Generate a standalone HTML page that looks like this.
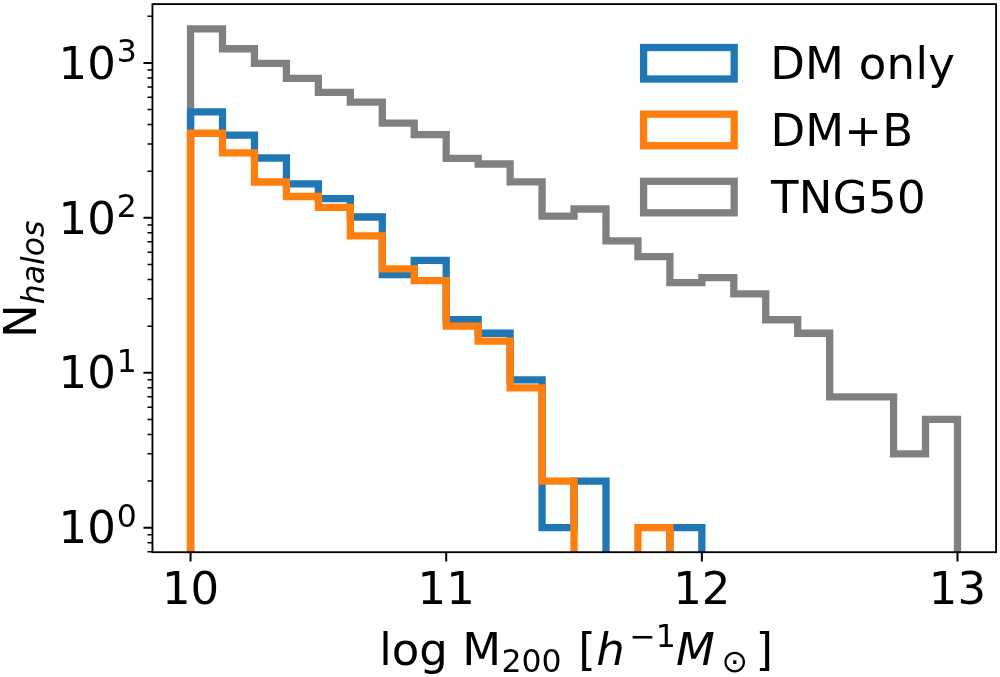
<!DOCTYPE html>
<html lang="en"><head><meta charset="utf-8"><title>Halo mass function</title>
<style>html,body{margin:0;padding:0;background:#fff}body{width:1000px;height:677px;overflow:hidden}</style>
</head><body>
<svg width="1000" height="677" viewBox="0 0 1000 677" style="display:block">
<rect width="1000" height="677" fill="#fff"/>
<defs><clipPath id="ax"><rect x="152.45" y="4.1" width="843.6500000000001" height="548.1"/></clipPath></defs>
<g clip-path="url(#ax)" fill="none" stroke-width="7.3" stroke-linejoin="miter" stroke-miterlimit="10">
<path d="M190.55 600.00 L190.55 28.95 L222.50 28.95 L222.50 48.75 L254.46 48.75 L254.46 63.45 L286.42 63.45 L286.42 78.45 L318.37 78.45 L318.37 92.30 L350.33 92.30 L350.33 102.10 L382.29 102.10 L382.29 123.10 L414.24 123.10 L414.24 134.70 L446.20 134.70 L446.20 158.40 L478.16 158.40 L478.16 164.00 L510.11 164.00 L510.11 181.90 L542.07 181.90 L542.07 216.10 L574.03 216.10 L574.03 209.00 L605.98 209.00 L605.98 240.80 L637.94 240.80 L637.94 256.60 L669.89 256.60 L669.89 282.60 L701.85 282.60 L701.85 277.60 L733.81 277.60 L733.81 293.90 L765.76 293.90 L765.76 319.73 L797.72 319.73 L797.72 333.23 L829.68 333.23 L829.68 396.78 L861.63 396.78 L893.59 396.78 L893.59 453.78 L925.55 453.78 L925.55 419.42 L957.50 419.42 L957.50 600.00" stroke="#808080"/>
<path d="M190.55 600.00 L190.55 111.95 L222.50 111.95 L222.50 135.10 L254.46 135.10 L254.46 158.00 L286.42 158.00 L286.42 183.80 L318.37 183.80 L318.37 198.55 L350.33 198.55 L350.33 217.00 L382.29 217.00 L382.29 274.60 L414.24 274.60 L414.24 260.30 L446.20 260.30 L446.20 319.73 L478.16 319.73 L478.16 333.23 L510.11 333.23 L510.11 379.87 L542.07 379.87 L542.07 527.70 L574.03 527.70 L574.03 481.06 L605.98 481.06 L605.98 600.00 L637.94 600.00 L669.89 600.00 L669.89 527.70 L701.85 527.70 L701.85 600.00 L733.81 600.00 L765.76 600.00 L797.72 600.00 L829.68 600.00 L861.63 600.00 L893.59 600.00 L925.55 600.00 L957.50 600.00" stroke="#1f77b4"/>
<path d="M190.55 600.00 L190.55 133.25 L222.50 133.25 L222.50 152.90 L254.46 152.90 L254.46 182.00 L286.42 182.00 L286.42 196.50 L318.37 196.50 L318.37 207.40 L350.33 207.40 L350.33 235.95 L382.29 235.95 L382.29 268.85 L414.24 268.85 L414.24 280.60 L446.20 280.60 L446.20 326.14 L478.16 326.14 L478.16 341.16 L510.11 341.16 L510.11 387.79 L542.07 387.79 L542.07 481.06 L574.03 481.06 L574.03 600.00 L605.98 600.00 L637.94 600.00 L637.94 527.70 L669.89 527.70 L669.89 600.00 L701.85 600.00 L733.81 600.00 L765.76 600.00 L797.72 600.00 L829.68 600.00 L861.63 600.00 L893.59 600.00 L925.55 600.00 L957.50 600.00" stroke="#ff7f0e"/>
</g>
<g stroke="#000" fill="none">
<path d="M190.55 552.2 V561.4000000000001 M446.20 552.2 V561.4000000000001 M701.85 552.2 V561.4000000000001 M957.50 552.2 V561.4000000000001 M152.45 527.70 H143.45 M152.45 372.78 H143.45 M152.45 217.86 H143.45 M152.45 62.94 H143.45" stroke-width="2"/>
<path d="M152.45 551.70 H147.45 M152.45 542.71 H147.45 M152.45 534.79 H147.45 M152.45 481.06 H147.45 M152.45 453.78 H147.45 M152.45 434.43 H147.45 M152.45 419.42 H147.45 M152.45 407.15 H147.45 M152.45 396.78 H147.45 M152.45 387.79 H147.45 M152.45 379.87 H147.45 M152.45 326.14 H147.45 M152.45 298.86 H147.45 M152.45 279.51 H147.45 M152.45 264.50 H147.45 M152.45 252.23 H147.45 M152.45 241.86 H147.45 M152.45 232.87 H147.45 M152.45 224.95 H147.45 M152.45 171.22 H147.45 M152.45 143.94 H147.45 M152.45 124.59 H147.45 M152.45 109.58 H147.45 M152.45 97.31 H147.45 M152.45 86.94 H147.45 M152.45 77.95 H147.45 M152.45 70.03 H147.45 M152.45 16.30 H147.45" stroke-width="1.5"/>
<rect x="152.45" y="4.1" width="843.6500000000001" height="548.1" stroke-width="1.85"/>
</g>
<g font-family="'DejaVu Sans','Liberation Sans',sans-serif" font-size="45" fill="#000">
<text x="190.55" y="604.3" text-anchor="middle">10</text>
<text x="446.20" y="604.3" text-anchor="middle">11</text>
<text x="701.85" y="604.3" text-anchor="middle">12</text>
<text x="957.50" y="604.3" text-anchor="middle">13</text>
<text x="58.5" y="543.35">10<tspan font-size="31.5" dx="1.0" dy="-16.8">0</tspan></text>
<text x="58.5" y="388.43">10<tspan font-size="31.5" dx="1.0" dy="-16.8">1</tspan></text>
<text x="58.5" y="233.51">10<tspan font-size="31.5" dx="1.0" dy="-16.8">2</tspan></text>
<text x="58.5" y="78.59">10<tspan font-size="31.5" dx="1.0" dy="-16.8">3</tspan></text>
<text x="379.3" y="665.0">log M<tspan font-size="31.5" dx="0.5" dy="6.9">200</tspan><tspan dy="-6.9" dx="2.2"> [</tspan><tspan font-style="italic" dx="0.5">h</tspan><tspan font-size="31.5" dx="4.5" dy="-18.3">−1</tspan><tspan font-style="italic" dx="0.3" dy="18.3">M</tspan><tspan font-size="31.5" dx="6.7" dy="6.9">⊙</tspan><tspan dy="-6.9" dx="7.5">]</tspan></text>
<text transform="translate(36.4 338.0) rotate(-90)">N<tspan font-size="31.5" font-style="italic" dy="7.6" dx="0">halos</tspan></text>
<rect x="643.6" y="47.50" width="90.6" height="31.5" fill="none" stroke="#1f77b4" stroke-width="7.3"/>
<text x="770.2" y="79.0" letter-spacing="0.28">DM only</text>
<rect x="643.6" y="114.20" width="90.6" height="31.5" fill="none" stroke="#ff7f0e" stroke-width="7.3"/>
<text x="770.5" y="145.7" letter-spacing="0.17">DM+B</text>
<rect x="643.6" y="181.30" width="90.6" height="31.5" fill="none" stroke="#808080" stroke-width="7.3"/>
<text x="771.0" y="212.8" letter-spacing="0.35">TNG50</text>
</g>
</svg>
</body></html>
